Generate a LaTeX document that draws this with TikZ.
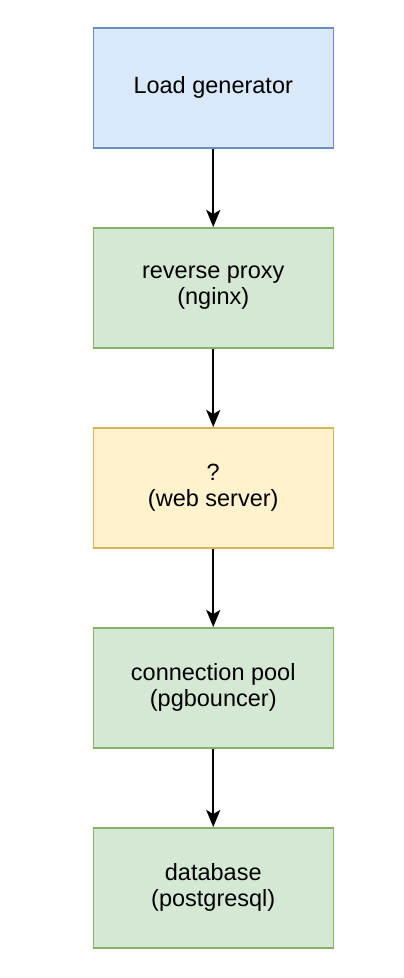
\documentclass[tikz,border=0pt]{standalone}
\usepackage{fontspec}
\setmainfont{Liberation Sans}
\usetikzlibrary{arrows.meta}
\definecolor{bluefill}{HTML}{DAE8FC}
\definecolor{bluedraw}{HTML}{6C8EBF}
\definecolor{greenfill}{HTML}{D5E8D4}
\definecolor{greendraw}{HTML}{82B366}
\definecolor{yellowfill}{HTML}{FFF2CC}
\definecolor{yellowdraw}{HTML}{D6B656}
\tikzset{
  box/.style={draw, line width=1.5pt, minimum width=240pt, minimum height=120pt, inner sep=0pt,
    align=center, font=\fontsize{23.5pt}{26pt}\selectfont, anchor=north west},
  bluebox/.style={box, fill=bluefill, draw=bluedraw},
  greenbox/.style={box, fill=greenfill, draw=greendraw},
  yellowbox/.style={box, fill=yellowfill, draw=yellowdraw},
  conn/.style={line width=2pt, -{Stealth[length=17pt, width=14pt, inset=4pt]}}
}
\begin{document}
\begin{tikzpicture}[x=1pt, y=-1pt]
\useasboundingbox (0,0) rectangle (404,978);
\node[bluebox] (lg) at (92.5,27) {Load generator};
\node[greenbox] (rp) at (92.5,227) {reverse proxy\\(nginx)};
\node[yellowbox] (ws) at (92.5,427) {?\\(web server)};
\node[greenbox] (cp) at (92.5,627) {connection pool\\(pgbouncer)};
\node[greenbox] (db) at (92.5,827) {database\\(postgresql)};
\draw[conn] (lg) -- (rp);
\draw[conn] (rp) -- (ws);
\draw[conn] (ws) -- (cp);
\draw[conn] (cp) -- (db);
\end{tikzpicture}
\end{document}
